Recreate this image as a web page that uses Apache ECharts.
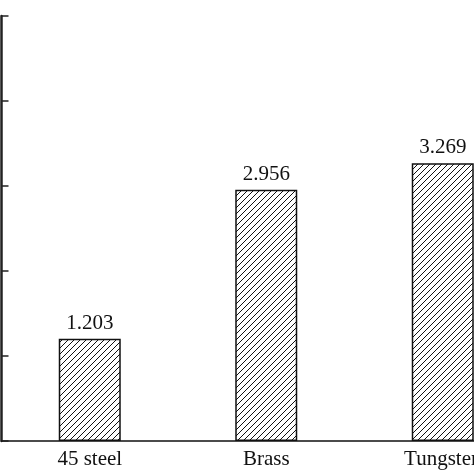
<!DOCTYPE html>
<html><head><meta charset="utf-8">
<script src="https://cdn.jsdelivr.net/npm/echarts@6/dist/echarts.min.js"></script>
<style>html,body{margin:0;padding:0;background:#fff}#c{width:474px;height:474px}</style>
</head><body><div id="c"></div>
<script>
const categories = ['45 steel', 'Brass', 'Tungsten'];
const values = [1.203, 2.956, 3.269];
const yTicks = [0, 1, 2, 3, 4, 5];

function hatch() {
  const s = 6, cv = document.createElement('canvas');
  cv.width = s; cv.height = s;
  const g = cv.getContext('2d');
  g.fillStyle = '#fff'; g.fillRect(0, 0, s, s);
  g.strokeStyle = '#111'; g.lineWidth = 1;
  g.beginPath();
  g.moveTo(-1, s + 1); g.lineTo(s + 1, -1);
  g.moveTo(-1, 1); g.lineTo(1, -1);
  g.moveTo(s - 1, s + 1); g.lineTo(s + 1, s - 1);
  g.stroke();
  return cv;
}

const chart = echarts.init(document.getElementById('c'), null, {renderer: 'canvas'});
const font = 'Liberation Serif';
chart.setOption({
  animation: false,
  backgroundColor: '#fff',
  grid: {left: 1.5, top: 16, width: 529.5, bottom: 33, containLabel: false, outerBoundsMode: 'none'},
  xAxis: {
    type: 'category', data: categories,
    axisLine: {lineStyle: {color: '#111', width: 1.5}},
    axisTick: {show: true, inside: true, alignWithLabel: true, length: 5, lineStyle: {color: '#111'}},
    axisLabel: {color: '#111', fontFamily: font, fontSize: 21, margin: 8}
  },
  yAxis: {
    type: 'value', min: yTicks[0], max: yTicks[yTicks.length - 1], interval: 1,
    axisLine: {show: true, lineStyle: {color: '#222', width: 2.5}},
    axisTick: {show: true, inside: true, length: 7, lineStyle: {color: '#222', width: 1.5}},
    axisLabel: {show: false},
    splitLine: {show: false}
  },
  series: [{
    type: 'bar', data: values, barWidth: 62,
    itemStyle: {color: {image: hatch(), repeat: 'repeat'}, borderColor: '#111', borderWidth: 1.5},
    label: {show: true, position: 'top', distance: 5, color: '#111', fontFamily: font, fontSize: 21,
      formatter: p => p.value.toFixed(3)}
  }]
});
</script></body></html>
